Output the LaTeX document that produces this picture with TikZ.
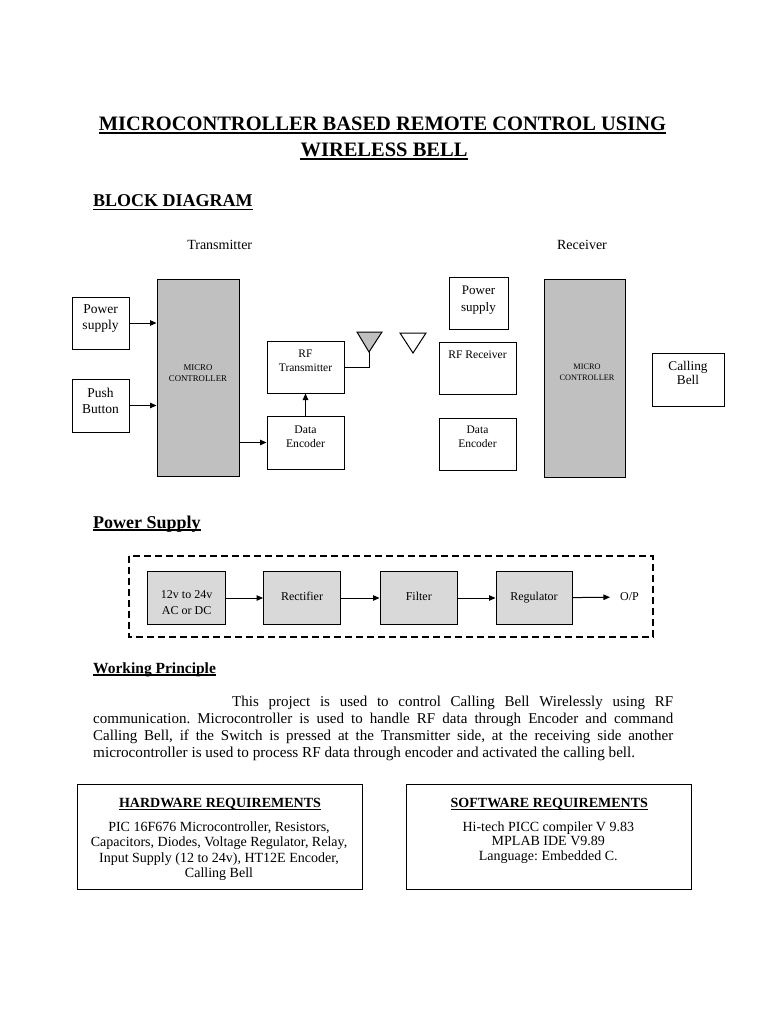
\documentclass[tikz,border=0pt]{standalone}
\usepackage{fontspec}
\setmainfont{Liberation Serif}
\usetikzlibrary{arrows.meta}
\newcommand\fsz[2]{\fontsize{#1}{#2}\selectfont}
\definecolor{mcgray}{HTML}{C0C0C0}
\definecolor{psgray}{HTML}{D9D9D9}
\frenchspacing
\begin{document}
\begin{tikzpicture}[x=1pt,y=-1pt,
  blk/.style={draw=black, line width=1pt, inner sep=0pt, fill=white},
  mcu/.style={blk, fill=mcgray},
  psb/.style={blk, fill=psgray, font=\fsz{12}{14}, align=center, text height=0.68em, text depth=0.22em},
  lbl/.style={inner sep=0pt, align=center},
  txt/.style={inner sep=0pt, anchor=base},
  ptxt/.style={inner sep=0pt, anchor=base west, font=\fsz{15}{17}},
  arr/.style={line width=1pt, -{Triangle[length=6.5pt,width=5.5pt]}},
  hd/.style={inner sep=0pt, anchor=base west, font=\bfseries\fsz{18}{20}},
  ttl/.style={inner sep=0pt, anchor=base, font=\bfseries\fsz{20.5}{24}},
  ul/.style={line width=1.4pt}]
\fill[white] (0,0) rectangle (768,1024);
\useasboundingbox (0,0) rectangle (768,1024);

% title
\node[ttl] (t1) at (382.5,130.5) {MICROCONTROLLER BASED REMOTE CONTROL USING};
\node[ttl] (t2) at (384,156.5) {WIRELESS BELL};
\draw[ul] ([yshift=-2.7pt]t1.base west) -- ([yshift=-2.7pt]t1.base east);
\draw[ul] ([yshift=-2.7pt]t2.base west) -- ([yshift=-2.7pt]t2.base east);

\node[hd] (bd) at (93,207) {BLOCK DIAGRAM};
\draw[ul] ([yshift=-2.5pt]bd.base west) -- ([yshift=-2.5pt]bd.base east);

% block diagram
\node[txt, font=\fsz{14}{16}] (tx) at (219.7,249.3) {Transmitter};
\node[txt, font=\fsz{14}{16}] (rx) at (582,249.3) {Receiver};

\node[blk, minimum width=57pt, minimum height=52pt] (ps1) at (100.5,323) {};
\node[lbl, font=\fsz{13.5}{16.5}] (ps1t) at (100.5,318.5) {Power\\supply};
\node[blk, minimum width=57pt, minimum height=53pt] (pb) at (100.5,405.5) {};
\node[lbl, font=\fsz{13.5}{16}] (pbt) at (100.5,401) {Push\\Button};
\node[mcu, minimum width=82pt, minimum height=197pt] (mc1) at (198,377.5) {};
\node[lbl, font=\fsz{8.8}{11}] (mc1t) at (198,373) {MICRO\\CONTROLLER};
\node[blk, minimum width=77pt, minimum height=52pt] (rf1) at (305.5,367) {};
\node[lbl, font=\fsz{11.5}{14}] (rf1t) at (305.5,360.5) {RF\\Transmitter};
\node[blk, minimum width=77pt, minimum height=53pt] (de1) at (305.5,442.5) {};
\node[lbl, font=\fsz{11.7}{13.5}] (de1t) at (305.5,436.5) {Data\\Encoder};

\draw[arr] (ps1) -- (ps1 -| mc1.west);
\draw[arr] (pb) -- (pb -| mc1.west);
\draw[arr] (de1 -| mc1.east) -- (de1);
\draw[arr] (de1) -- (rf1);

\coordinate (a1) at (369,352);
\draw[line width=1pt, fill=mcgray] (357,332) -- (382,332) -- (a1) -- cycle;
\draw[line width=1pt] (rf1.east) -- (rf1.east -| a1) -- (a1);
\coordinate (a2) at (413,353);
\draw[line width=1pt] (400,333) -- (426,333) -- (a2) -- cycle;

\node[blk, minimum width=59pt, minimum height=52pt] (ps2) at (478.5,303) {};
\node[lbl, font=\fsz{13}{17}] (ps2t) at (478.5,300) {Power\\supply};
\node[blk, minimum width=77pt, minimum height=52pt] (rf2) at (477.5,368) {};
\node[lbl, font=\fsz{11.6}{14}] (rf2t) at (477.5,354.3) {RF Receiver};
\node[blk, minimum width=77pt, minimum height=52pt] (de2) at (477.5,444) {};
\node[lbl, font=\fsz{11.5}{14}] (de2t) at (477.5,437) {Data\\Encoder};
\node[mcu, minimum width=81pt, minimum height=198pt] (mc2) at (584.5,378) {};
\node[lbl, font=\fsz{8.3}{11}] (mc2t) at (587,372.5) {MICRO\\CONTROLLER};
\node[blk, minimum width=72pt, minimum height=53pt] (cb) at (688,379.5) {};
\node[lbl, font=\fsz{13.3}{14}] (cbt) at (688,372.7) {Calling\\Bell};

% power supply
\node[hd] (psh) at (93,528) {Power Supply};
\draw[ul] ([yshift=-2pt]psh.base west) -- ([yshift=-2pt]psh.base east);

\draw[line width=1.1pt, dash pattern=on 7pt off 4pt] (129,556) rectangle (653,637);
\node[psb, minimum width=78pt, minimum height=52.7pt] (src) at (186.6,598) {};
\node[lbl, font=\fsz{12}{16}] (srct) at (186.6,603) {12v to 24v\\AC or DC};
\node[psb, minimum width=77pt, minimum height=52.7pt] (rect) at (302,598) {Rectifier};
\node[psb, minimum width=77.5pt, minimum height=52.7pt] (filt) at (418.75,598) {Filter};
\node[psb, minimum width=76pt, minimum height=52.7pt] (reg) at (534,598) {Regulator};
\node[lbl, font=\fsz{12}{14}] (op) at (629.5,597) {O/P};
\draw[arr] (src) -- (rect);
\draw[arr] (rect) -- (filt);
\draw[arr] (filt) -- (reg);
\draw[arr, shorten >=10pt] (reg) -- (op);

% working principle
\node[hd, font=\bfseries\fsz{15.5}{18}] (wp) at (93,673) {Working Principle};
\draw[line width=1.2pt] ([yshift=-2pt]wp.base west) -- ([yshift=-2pt]wp.base east);

\node[ptxt] (p1) at (232,706) {\makebox[441pt][s]{This project is used to control Calling Bell Wirelessly using RF}};
\node[ptxt] (p2) at (93,723) {\makebox[580pt][s]{communication. Microcontroller is used to handle RF data through Encoder and command}};
\node[ptxt] (p3) at (93,740) {\makebox[580pt][s]{Calling Bell, if the Switch is pressed at the Transmitter side, at the receiving side another}};
\node[ptxt, font=\fsz{15.2}{17}] (p4) at (93,757) {microcontroller is used to process RF data through encoder and activated the calling bell.};

% requirement boxes
\node[blk, minimum width=285.4pt, minimum height=105pt] (hw) at (220,836.8) {};
\node[blk, minimum width=285pt, minimum height=105pt] (sw) at (549.2,836.8) {};

\node[txt, font=\bfseries\fsz{14}{16}] (hwh) at (220,807.7) {HARDWARE REQUIREMENTS};
\draw[line width=1pt] ([yshift=-2pt]hwh.base west) -- ([yshift=-2pt]hwh.base east);
\node[txt, font=\fsz{14}{16}] (hw1) at (219,831) {PIC 16F676 Microcontroller, Resistors,};
\node[txt, font=\fsz{14}{16}] (hw2) at (219,846.5) {Capacitors, Diodes, Voltage Regulator, Relay,};
\node[txt, font=\fsz{14}{16}] (hw3) at (219,862) {Input Supply (12 to 24v), HT12E Encoder,};
\node[txt, font=\fsz{14}{16}] (hw4) at (219,877.5) {Calling Bell};

\node[txt, font=\bfseries\fsz{14}{16}] (swh) at (549.3,807.7) {SOFTWARE REQUIREMENTS};
\draw[line width=1pt] ([yshift=-2pt]swh.base west) -- ([yshift=-2pt]swh.base east);
\node[txt, font=\fsz{14}{16}] (sw1) at (548.3,831) {Hi-tech PICC compiler V 9.83};
\node[txt, font=\fsz{14}{16}] (sw2) at (548.3,845.5) {MPLAB IDE V9.89};
\node[txt, font=\fsz{14}{16}] (sw3) at (548.3,860) {Language: Embedded C.};
\end{tikzpicture}
\end{document}
